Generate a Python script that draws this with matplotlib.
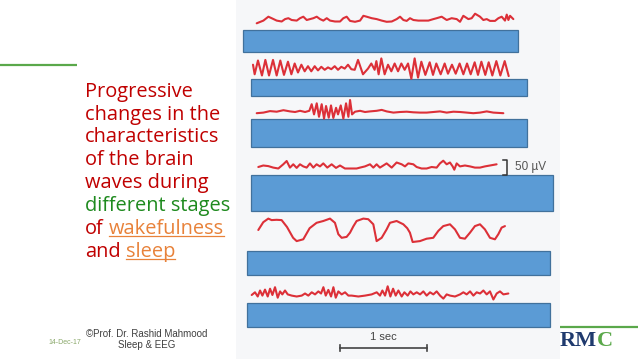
import matplotlib
matplotlib.use('Agg')
import matplotlib.pyplot as plt
from matplotlib.patches import Rectangle

# ---------------- data (time in s, amplitude in microvolts) ----------------
t1 = [0, .077, .134, .172, .230, .287, .326, .364, .402, .460, .498, .536, .575, .613, .651, .690,
      .728, .766, .805, .843, .900, .958, .996, 1.034, 1.073, 1.130, 1.188, 1.226, 1.264, 1.322,
      1.379, 1.437, 1.494, 1.552, 1.609, 1.648, 1.686, 1.724, 1.762, 1.801, 1.858, 1.916, 1.973,
      2.031, 2.069, 2.126, 2.184, 2.241, 2.299, 2.337, 2.375, 2.433, 2.471, 2.510, 2.567, 2.605,
      2.644, 2.682, 2.739, 2.778, 2.816, 2.854, 2.874, 2.893, 2.912, 2.950]
v1 = [-11, -2, 11, 6, -2, -5, 3, 6, 0, -2, 6, 11, 0, 3, 6, 11, 3, -2, 6, -2, -5, -5, 6, 11, -3,
      -6, -2, 14, 11, 6, 3, -2, -6, -5, 3, 11, 0, -3, 6, 0, -2, -2, -2, 3, 6, 11, 0, 6, 3, -6, 14,
      3, 6, 21, 11, 0, 3, -3, -3, 6, 11, -2, 18, 0, 14, 3]

t2 = [0, .019, .057, .103, .142, .184, .230, .272, .314, .356, .402, .441, .479, .517, .556, .594,
      .632, .670, .709, .747, .785, .824, .862, .900, .939, .977, 1.015, 1.054, 1.092, 1.130, 1.169,
      1.207, 1.264, 1.322, 1.360, 1.398, 1.418, 1.444, 1.475, 1.513, 1.552, 1.590, 1.628, 1.667,
      1.705, 1.743, 1.782, 1.820, 1.858, 1.897, 1.935, 1.981, 2.031, 2.069, 2.107, 2.157, 2.203,
      2.241, 2.287, 2.330, 2.375, 2.418, 2.460, 2.502, 2.548, 2.586, 2.625, 2.670, 2.709, 2.751,
      2.797, 2.843, 2.893, 2.939]
v2 = [11, -21, 25, -25, 27, -25, 27, -25, 25, -23, 21, -21, 15, -15, 11, -11, 6, -11, 6, -8, 4,
      -6, 2, -4, 6, -6, 4, -2, 11, -4, -6, 27, -21, -2, 15, -6, 23, -21, 32, -21, 11, -11, 15,
      -11, 15, -6, 15, -36, 32, -32, 21, -23, 19, -23, 15, -21, 15, -19, 11, -19, 15, -21, 15,
      -21, 19, -23, 21, -23, 19, -25, 23, -25, 23, -27]

t3 = [0, .077, .153, .230, .307, .383, .441, .498, .556, .605, .632, .659, .690, .716, .747, .774,
      .797, .828, .854, .881, .912, .935, .966, .996, 1.027, 1.054, 1.073, 1.096, 1.130, 1.188,
      1.245, 1.303, 1.379, 1.437, 1.494, 1.571, 1.648, 1.724, 1.801, 1.877, 1.954, 2.031, 2.107,
      2.184, 2.261, 2.337, 2.414, 2.490, 2.567, 2.644, 2.720, 2.835]
v3 = [-4, -2, 3, 1, 6, 2, 0, 4, 0, 4, 26, -8, 29, -16, 26, -22, 20, -19, 22, -20, 14, -8, 22, -22,
      29, -16, 40, -8, 1, 4, 0, 2, 4, 7, 2, -2, 0, 1, -1, -2, -2, 0, 2, -2, 1, 0, -2, -4, -2, 2,
      -2, -4]

t4 = [0, .057, .115, .172, .230, .287, .326, .364, .402, .441, .479, .517, .556, .594, .632, .670,
      .709, .747, .793, .843, .893, .939, .996, 1.054, 1.130, 1.169, 1.226, 1.284, 1.322, 1.360,
      1.398, 1.437, 1.475, 1.533, 1.590, 1.648, 1.686, 1.724, 1.782, 1.820, 1.877, 1.935, 1.992,
      2.050, 2.088, 2.126, 2.165, 2.203, 2.234, 2.253, 2.280, 2.318, 2.375, 2.433, 2.490, 2.548,
      2.605, 2.663, 2.739]
v4 = [0, 5, 3, -2, -5, 9, 20, -2, 9, -3, 9, 2, -2, 12, -2, 9, 2, 12, -2, 9, -3, 5, -5, -5, -5, -2,
      2, 9, -2, 9, -2, 5, 12, -2, 15, 9, 2, 12, 9, 0, -5, -5, 0, -2, 12, 21, 9, 15, 2, -9, 12, 2,
      5, 2, -2, -2, 2, 5, 9]

t5 = [0, .057, .115, .153, .210, .268, .330, .400, .441, .517, .590, .670, .747, .824, .881, .920,
      .958, 1.015, 1.054, 1.092, 1.130, 1.207, 1.264, 1.322, 1.360, 1.418, 1.475, 1.513, 1.590,
      1.667, 1.712, 1.743, 1.774, 1.858, 1.935, 2.011, 2.069, 2.126, 2.203, 2.261, 2.318, 2.375,
      2.433, 2.490, 2.548, 2.605, 2.663, 2.720, 2.759, 2.797, 2.835]
v5 = [0, 26, 38, 33, 34, 33, 10, -26, -37, -31, 6, 24, 30, 38, 24, -14, -26, -23, -9, 12, 30, 38,
      36, 19, -37, -26, 2, 24, 30, 19, 6, -9, -40, -37, -29, -26, -3, 13, 19, 2, -26, -29, -9, 13,
      19, 2, -26, -31, -14, 8, 13]

t6 = [0, .038, .069, .096, .123, .153, .184, .211, .238, .268, .299, .326, .352, .383, .414, .460,
      .517, .575, .613, .651, .690, .728, .766, .797, .824, .851, .881, .912, .939, .966, .996,
      1.034, 1.073, 1.111, 1.149, 1.226, 1.303, 1.379, 1.437, 1.475, 1.502, 1.533, 1.563, 1.594,
      1.625, 1.655, 1.686, 1.724, 1.755, 1.793, 1.824, 1.858, 1.897, 1.935, 1.973, 2.011, 2.050,
      2.088, 2.126, 2.165, 2.203, 2.241, 2.280, 2.337, 2.395, 2.433, 2.471, 2.510, 2.548, 2.586,
      2.625, 2.663, 2.701, 2.739, 2.778, 2.816, 2.854, 2.893, 2.950]
v6 = [0, 9, -5, 15, -2, 18, -5, 21, 0, 26, -9, 12, 2, 15, 2, -2, -5, -2, 5, -2, 9, 2, 12, 5, 26,
      -2, 17, -5, 26, -9, 12, 2, 9, -2, -2, -5, -2, 2, 9, -2, 15, -2, 29, -5, 21, -2, 15, -5, 9,
      -2, 12, 2, 9, 2, 12, -2, 9, 2, 12, -2, -12, 2, -2, -5, 2, 9, 2, 12, -2, 9, 5, 15, 2, 12,
      -15, 5, 12, 2, 5]

traces = [(t1, v1), (t2, v2), (t3, v3), (t4, v4), (t5, v5), (t6, v6)]

title_lines = ["Progressive", "changes in the", "characteristics", "of the brain",
               "waves during", "different stages", "of wakefulness", "and sleep"]
scale_uv = 50
scale_sec = 1

# ---------------- layout ----------------
W, H = 638, 359
fig = plt.figure(figsize=(W / 100, H / 100), dpi=100)
fig.patch.set_facecolor('white')
bg = fig.add_axes([0, 0, 1, 1])
bg.set_xlim(0, W)
bg.set_ylim(H, 0)
bg.axis('off')

PX_PER_SEC = 87.0
PX_PER_UV = 15.0 / 50.0
RED = '#dc3038'
BLUE_FILL = '#5b9bd5'
BLUE_EDGE = '#41719c'

# image panel
bg.add_patch(Rectangle((236, 0), 324, H, facecolor='#f6f7f9', edgecolor='none', zorder=0))

# blue boxes (covering labels in the original figure)
boxes = [(243, 30, 275, 22), (251, 79, 276, 17), (251, 119, 276, 28),
         (251, 175, 302, 36), (247, 251, 303, 24), (247, 303, 303, 24)]
for (x, y, w, h) in boxes:
    bg.add_patch(Rectangle((x, y), w, h, facecolor=BLUE_FILL, edgecolor=BLUE_EDGE,
                           linewidth=0.9, zorder=2))

# traces
trace_pos = [(256.7, 20.0), (253.0, 68.0), (256.7, 112.0), (258.3, 167.0),
             (258.3, 230.0), (251.7, 295.0)]
trace_axes = []
for (x0, yc), (tt, vv) in zip(trace_pos, traces):
    width, half = 280, 40
    ax = fig.add_axes([x0 / W, (H - yc - half) / H, width / W, 2 * half / H])
    ax.set_xlim(0, width / PX_PER_SEC)
    ax.set_ylim(-half / PX_PER_UV, half / PX_PER_UV)
    ax.axis('off')
    ax.plot(tt, vv, color=RED, linewidth=1.5, solid_joinstyle='round',
            solid_capstyle='round', clip_on=False)
    trace_axes.append(ax)

# 50 uV calibration bracket (on trace 4 axes)
ax4 = trace_axes[3]
bx = 2.81
ax4.plot([bx, bx + 0.05, bx + 0.05, bx], [scale_uv / 2, scale_uv / 2, -scale_uv / 2, -scale_uv / 2],
         color='#333333', linewidth=1.1, clip_on=False)
ax4.text(bx + 0.14, 0, "50 \u00b5V", fontsize=8.5, color='#555555', va='center', ha='left',
         family='Liberation Sans', clip_on=False)

# 1 sec bar (on trace 6 axes)
ax6 = trace_axes[5]
x_s = 1.015
y_bar = -(348 - 295) / PX_PER_UV
ax6.plot([x_s, x_s + scale_sec], [y_bar, y_bar], color='#444444', linewidth=1.2, clip_on=False)
for xe in (x_s, x_s + scale_sec):
    ax6.plot([xe, xe], [y_bar - 9, y_bar + 9], color='#444444', linewidth=1.2, clip_on=False)
ax6.text(x_s + scale_sec / 2, -(337 - 295) / PX_PER_UV, "1 sec", fontsize=8, color='#444444',
         ha='center', va='center', family='Liberation Sans', clip_on=False)

# ---------------- left text ----------------
bg.plot([0, 77], [64.7, 64.7], color='#5aa84a', linewidth=1.6, solid_capstyle='butt')

TX = 85
FS = 14.4
FONT = 'Open Sans'
TRED = '#c00000'
TGREEN = '#1e8a1e'
TORANGE = '#e8823a'
base0, step = 96.7, 22.86
underlined = []
for i, line in enumerate(title_lines):
    yb = base0 + i * step
    if line.startswith("of wake") or line.startswith("and "):
        first, second = line.split(" ", 1)
        t0 = bg.text(TX, yb, first, color=TRED, fontsize=FS, family=FONT, va='baseline')
        t1_ = bg.annotate(second, xy=(1, 0), xycoords=t0, xytext=(3.8, 0),
                          textcoords='offset points', va='bottom', ha='left',
                          color=TORANGE, fontsize=FS, family=FONT)
        underlined.append((t1_, yb))
    else:
        col = TGREEN if line.startswith("different") else TRED
        bg.text(TX, yb, line, color=col, fontsize=FS, family=FONT, va='baseline')

# footer
bg.text(147, 334, "\u00a9Prof. Dr. Rashid Mahmood", fontsize=7, color='#404040', ha='center',
        va='center', family='Liberation Sans')
bg.text(147, 345, "Sleep & EEG", fontsize=7, color='#404040', ha='center', va='center',
        family='Liberation Sans')
bg.text(65, 343, "14-Dec-17", fontsize=5, color='#8aa86a', ha='center', va='center',
        family='Liberation Sans')

# RMC logo
bg.plot([560, 638], [326.5, 326.5], color='#5aa84a', linewidth=1.6, solid_capstyle='butt')
rm = bg.text(560, 341, "RM", fontsize=16, color='#1f3a6e', fontweight='bold',
             family='Liberation Serif', va='center', ha='left')
bg.annotate("C", xy=(1, 0), xycoords=rm, va='bottom', ha='left', fontsize=16, color='#5aa84a',
            fontweight='bold', family='Liberation Serif')

# underlines
fig.canvas.draw()
for txt, yb in underlined:
    bb = txt.get_window_extent()
    bg.plot([bb.x0, bb.x1], [yb + 2.5, yb + 2.5], color=TORANGE, linewidth=0.9)

fig.savefig('out.png', dpi=100)
